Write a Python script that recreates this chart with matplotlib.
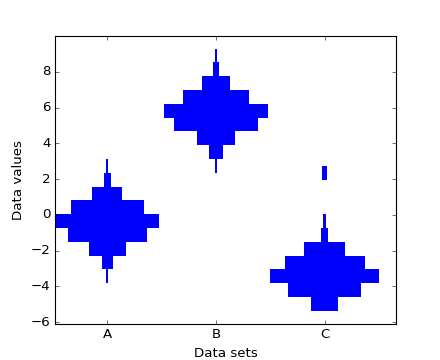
import numpy as np
import matplotlib
matplotlib.use("Agg")
import matplotlib.pyplot as plt

plt.style.use("classic")

labels = ["A", "B", "C"]

# shared histogram bin range (value units) and number of bins
hist_range = (-5.36, 9.30)
number_of_bins = 19

# counts per bin (bottom bin first)
counts_A = [0, 0, 2, 12, 41, 89, 117, 82, 34, 8, 2, 0, 0, 0, 0, 0, 0, 0, 0]
counts_B = [0, 0, 0, 0, 0, 0, 0, 0, 0, 0, 3, 15, 42, 95, 117, 75, 32, 6, 2]
counts_C = [30, 82, 122, 90, 46, 8, 3, 0, 0, 0, 0, 0, 0, 0, 0, 0, 0, 0, 0]

# isolated bar of data set C (centre value, count)
c_extra_center = 2.33
c_extra_count = 5

binned_data_sets = [np.array(counts_A), np.array(counts_B), np.array(counts_C)]
max_count = max(d.max() for d in binned_data_sets)
x_locations = np.arange(len(labels)) * max_count

bin_edges = np.linspace(hist_range[0], hist_range[1], number_of_bins + 1)
heights = np.diff(bin_edges)
centers = bin_edges[:-1] + heights / 2

fig, ax = plt.subplots(figsize=(5.5, 4.5), dpi=80)
for x_loc, binned_data in zip(x_locations, binned_data_sets):
    lefts = x_loc - 0.5 * binned_data
    ax.barh(centers, binned_data, height=heights, left=lefts,
            color="b", linewidth=0)

ax.barh([c_extra_center], [c_extra_count], height=heights[0],
        left=[x_locations[2] - 0.5 * c_extra_count], color="b", linewidth=0)

ax.set_xticks(x_locations)
ax.set_xticklabels(labels)
ax.set_xlim(-58.7, 324)
ax.set_ylim(-6.1, 10.0)
ax.set_yticks([-6, -4, -2, 0, 2, 4, 6, 8])

ax.set_ylabel("Data values")
ax.set_xlabel("Data sets")

fig.savefig("out.png", dpi=80, facecolor="white")
